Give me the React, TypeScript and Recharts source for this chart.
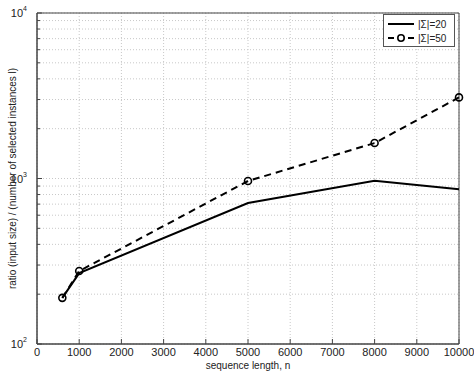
import { LineChart, Line, XAxis, YAxis, CartesianGrid, ReferenceArea } from 'recharts'

const lengths = [600, 1000, 5000, 8000, 10000]
const sigma20 = [190, 268, 711, 970, 861]
const sigma50 = [190, 276, 966, 1637, 3090]
const xTicks = [0, 1000, 2000, 3000, 4000, 5000, 6000, 7000, 8000, 9000, 10000]
const yTicks = [
  100, 200, 300, 400, 500, 600, 700, 800, 900,
  1000, 2000, 3000, 4000, 5000, 6000, 7000, 8000, 9000, 10000,
]
const decades = [100, 1000, 10000]

const chartData = lengths.map((n, i) => ({ n, s20: sigma20[i], s50: sigma50[i] }))

const font = '"Liberation Sans", Arial, sans-serif'

function YTick(props: any) {
  const { x, y, payload } = props
  const v = payload.value
  const axisX = x + 4
  const isDecade = decades.includes(v)
  const exp = Math.round(Math.log10(v))
  return (
    <g>
      <line x1={axisX} x2={axisX + (isDecade ? 5 : 3)} y1={y} y2={y} stroke="#444" />
      {isDecade && (
        <text x={x - 6} y={y + 4} textAnchor="end" fontSize={11} fill="#222" fontFamily={font}>
          10
          <tspan dy={-6} fontSize={7}>{exp}</tspan>
        </text>
      )}
    </g>
  )
}

function XTick(props: any) {
  const { x, y, payload } = props
  return (
    <g>
      <line x1={x} x2={x} y1={y - 4} y2={y - 9} stroke="#444" />
      <text x={x} y={y + 8} textAnchor="middle" fontSize={11} fill="#222" fontFamily={font}>
        {payload.value}
      </text>
    </g>
  )
}

function LegendBox() {
  return (
    <div
      style={{
        position: 'absolute',
        left: 383,
        top: 14,
        border: '1px solid #555',
        background: '#fff',
        width: 72,
        height: 33,
        boxSizing: 'border-box',
      }}
    >
      <svg width={70} height={31} style={{ display: 'block' }}>
        <line x1={4} x2={30} y1={9} y2={9} stroke="#000" strokeWidth={2} />
        <text x={34} y={13} fontSize={10} fill="#222" fontFamily={font}>|Σ|=20</text>
        <line x1={4} x2={30} y1={23} y2={23} stroke="#000" strokeWidth={2} strokeDasharray="6 4" />
        <circle cx={17} cy={23} r={3.2} fill="#fff" stroke="#000" strokeWidth={1.6} />
        <text x={34} y={27} fontSize={10} fill="#222" fontFamily={font}>|Σ|=50</text>
      </svg>
    </div>
  )
}

function YLabel(props: any) {
  const { viewBox } = props
  const cx = 12
  const cy = viewBox.y + viewBox.height / 2
  return (
    <text
      x={cx}
      y={cy}
      transform={`rotate(-90, ${cx}, ${cy})`}
      textAnchor="middle"
      dominantBaseline="central"
      fontSize={10}
      fill="#222"
      fontFamily={font}
    >
      ratio (input size) / (number of selected instances l)
    </text>
  )
}

export default function App() {
  return (
    <div style={{ position: 'absolute', left: 0, top: 0, width: 474, height: 372, background: '#fff' }}>
      <LineChart
        width={474}
        height={372}
        data={chartData}
        margin={{ top: 13, right: 15, bottom: 0, left: 0 }}
      >
        <CartesianGrid stroke="#c8c8c8" strokeDasharray="1 2" />
        <XAxis
          dataKey="n"
          type="number"
          domain={[0, 10000]}
          ticks={xTicks}
          interval={0}
          tickLine={false}
          axisLine={{ stroke: '#444' }}
          tickSize={0}
          tickMargin={4}
          height={28}
          tick={<XTick />}
          label={{
            value: 'sequence length, n',
            position: 'insideBottom',
            offset: 3,
            fontSize: 10,
            fill: '#222',
            fontFamily: font,
          }}
        />
        <YAxis
          scale="log"
          domain={[100, 10000]}
          ticks={yTicks}
          allowDataOverflow
          tickLine={false}
          axisLine={{ stroke: '#444' }}
          tickSize={0}
          tickMargin={4}
          width={37}
          interval={0}
          tick={<YTick />}
          label={{ content: <YLabel /> }}
        />
        <ReferenceArea x1={0} x2={10000} y1={100} y2={10000} fill="none" stroke="#444" ifOverflow="visible" />
        <Line
          dataKey="s20"
          stroke="#000"
          strokeWidth={2}
          dot={false}
          isAnimationActive={false}
        />
        <Line
          dataKey="s50"
          stroke="#000"
          strokeWidth={2}
          strokeDasharray="7 5"
          dot={{ r: 3.5, fill: 'none', stroke: '#000', strokeWidth: 1.6, strokeDasharray: '' }}
          isAnimationActive={false}
        />
      </LineChart>
      <LegendBox />
    </div>
  )
}
